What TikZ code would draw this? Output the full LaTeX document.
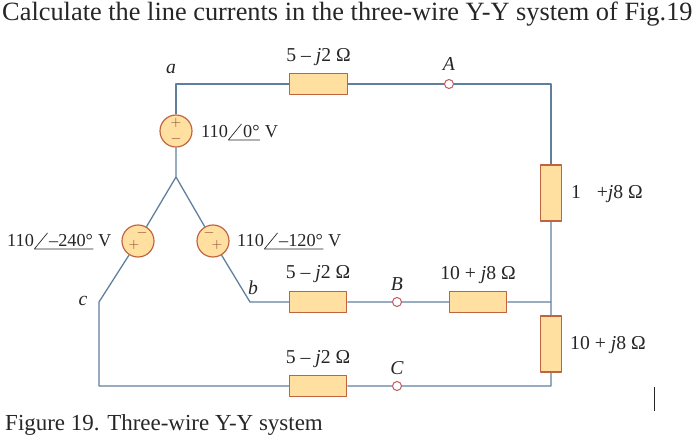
\documentclass[tikz,border=0pt]{standalone}
\usepackage{fontspec}
\setmainfont{Liberation Serif}
\definecolor{wirecol}{HTML}{5F7F9C}
\definecolor{partfill}{HTML}{FFE0A0}
\definecolor{partline}{HTML}{C0633F}
\definecolor{termline}{HTML}{C2606A}
\definecolor{inkcol}{HTML}{262626}
\newcommand{\phasorang}[1]{\tikz[baseline=(val.base)]{\node[inner sep=0pt,anchor=base west] (val) at (.8em,0) {#1};
\draw[line width=.6pt] (.72em,.72em) -- (0,-.16em) -- (val.base east |- 0,-.16em);}}
\tikzset{
wire/.style={draw=wirecol,line width=1.1pt},
res/.style={draw=partline,fill=partfill,line width=1pt,inner sep=0pt,minimum width=1.72cm,minimum height=.63cm},
vres/.style={res,minimum width=.63cm,minimum height=1.68cm},
src/.style={circle,draw=partline,fill=partfill,line width=1pt,inner sep=0pt,minimum size=.96cm},
term/.style={circle,draw=termline,fill=white,line width=.9pt,inner sep=0pt,minimum size=.27cm},
sgn/.style={inner sep=0pt,text=partline!70!black,font=\fontsize{12}{12}\selectfont},
lab/.style={inner sep=0pt,font=\fontsize{16.8}{18}\selectfont},
vlab/.style={inner sep=0pt,anchor=west,font=\fontsize{15.6}{18}\selectfont},
ilab/.style={inner sep=0pt,font=\fontsize{16.8}{18}\selectfont\itshape}
}
\begin{document}
\begin{tikzpicture}[x=.03cm,y=-.03cm,line join=round,text=inkcol]
\useasboundingbox (0,0) rectangle (700,442);
% corners of the wiring
\coordinate (cornera) at (176,84);
\coordinate (star) at (176,177);
\coordinate (cornerb) at (250,302);
\coordinate (cornerc) at (99,302);
\coordinate (bottomc) at (99,386);
\coordinate (topright) at (551,84);
\coordinate (join) at (551,302);
\coordinate (bottomr) at (551,386);
% parts
\node[res] (resa) at (318.5,84) {};
\node[res] (resb) at (318,302) {};
\node[res] (resc) at (318,386) {};
\node[res] (resm) at (478,302) {};
\node[vres] (resu) at (551,193) {};
\node[vres] (resl) at (551,344) {};
\node[src] (srca) at (176,131) {};
\node[src] (srcb) at (213,241) {};
\node[src] (srcc) at (138,241) {};
\node[term] (terma) at (449,84) {};
\node[term] (termb) at (397,302) {};
\node[term] (termc) at (397,386) {};
% wires
\draw[wire] (srca) -- (cornera) -- (resa) -- (terma) -- (topright) -- (resu);
\draw[wire] (resu) -- (join) -- (resl) -- (bottomr) -- (termc) -- (resc) -- (bottomc) -- (cornerc) -- (srcc);
\draw[wire] (srca) -- (star) -- (srcb) -- (cornerb) -- (resb) -- (termb) -- (resm) -- (join);
\draw[wire] (star) -- (srcc);
% signs
\node[sgn,align=center] (signa) at (176,131) {$+$\\[1.6pt]$-$};
\node[sgn] (minusb) at (209,233) {$-$};
\node[sgn] (plusb) at (217,245) {$+$};
\node[sgn] (minusc) at (142,233) {$-$};
\node[sgn] (plusc) at (134,245) {$+$};
% labels
\node[ilab] (laba) at (171,69) {a};
\node[ilab] (labb) at (253,288) {b};
\node[ilab] (labc) at (83,301) {c};
\node[ilab] (labA) at (449,64.5) {A};
\node[ilab] (labB) at (397,284) {B};
\node[ilab] (labC) at (397,368) {C};
\node[lab] (zresa) at (318.5,57) {5 – \textit{j}2 Ω};
\node[lab] (zresb) at (318,274) {5 – \textit{j}2 Ω};
\node[lab] (zresc) at (318,359) {5 – \textit{j}2 Ω};
\node[lab] (zresm) at (478,275) {10 + \textit{j}8 Ω};
\node[lab,anchor=west] (zresu) at (571,194) {1 \hspace{.55em}+\textit{j}8 Ω};
\node[lab,anchor=west] (zresl) at (570,345) {10 + \textit{j}8 Ω};
\node[vlab] (volta) at (201,132) {110\phasorang{0°}\ V};
\node[vlab] (voltb) at (237,241) {110\phasorang{–120°}\ V};
\node[vlab] (voltc) at (7,241) {110\phasorang{–240°}\ V};
\node[inner sep=0pt,anchor=west,font=\fontsize{22.5}{24}\selectfont] (title) at (2,14) {Calculate the line currents in the three-wire Y-Y system of Fig.19};
\node[inner sep=0pt,anchor=west,font=\fontsize{19.6}{22}\selectfont] (caption) at (5,425) {Figure 19. Three-wire Y-Y system};
% stray cursor mark
\coordinate (cursortop) at (654,387);
\coordinate (cursorend) at (654,411);
\draw[line width=.6pt,inkcol] (cursortop) -- (cursorend);
\end{tikzpicture}
\end{document}
